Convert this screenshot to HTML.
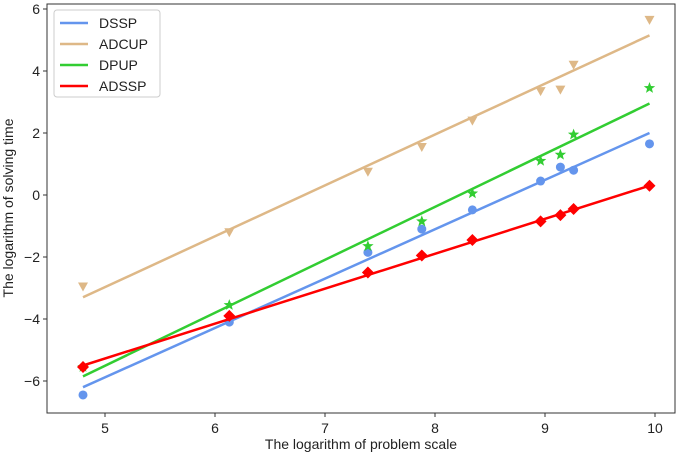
<!DOCTYPE html>
<html><head><meta charset="utf-8"><style>body{margin:0;background:#fff}svg{display:block;font-family:"Liberation Sans",sans-serif}</style></head>
<body>
<svg id="c" width="685" height="453"></svg>
<script>
const xs=[4.8,6.13,7.39,7.88,8.34,8.96,9.14,9.26,9.95];
const dssp=[-6.45,-4.1,-1.85,-1.1,-0.48,0.45,0.9,0.8,1.65];
const adcup=[-2.95,-1.2,0.75,1.55,2.4,3.35,3.4,4.2,5.65];
const dpup=[-5.55,-3.55,-1.65,-0.85,0.05,1.1,1.3,1.95,3.45];
const adssp=[-5.55,-3.9,-2.5,-1.95,-1.45,-0.85,-0.65,-0.45,0.3];
const fitX=[4.8,9.95];
const dsspFit=[-6.2,2.0];
const adcupFit=[-3.3,5.15];
const dpupFit=[-5.85,2.95];
const adsspFit=[-5.5,0.3];
const xTicks=[5,6,7,8,9,10];
const yTicks=[-6,-4,-2,0,2,4,6];
const svg=document.getElementById('c');const NS='http://www.w3.org/2000/svg';
const X=v=>105+(v-5)*110, Y=v=>195-v*31;
function mk(t,a,p){const e=document.createElementNS(NS,t);for(const k in a)e.setAttribute(k,a[k]);(p||svg).appendChild(e);return e;}
const ax=mk('rect',{x:47,y:4,width:628,height:409,fill:'none',stroke:'#333','stroke-width':1});

xTicks.forEach(t=>{const l=mk('line',{x1:X(t),x2:X(t),y1:413,y2:417,stroke:'#333'});
const tx=mk('text',{x:X(t),y:433,'text-anchor':'middle','font-size':14,fill:'#222'});tx.textContent=t;});
yTicks.forEach(t=>{const l=mk('line',{x1:43,x2:47,y1:Y(t),y2:Y(t),stroke:'#333'});
const tx=mk('text',{x:40,y:Y(t)+5,'text-anchor':'end','font-size':14,fill:'#222'});tx.textContent=(t<0?'\u2212'+(-t):t);});
const xt=mk('text',{x:361,y:449,'text-anchor':'middle','font-size':14,fill:'#222'});xt.textContent='The logarithm of problem scale';
const yt=mk('text',{x:13,y:208,'text-anchor':'middle','font-size':14,fill:'#222',transform:'rotate(-90 13 208)'});yt.textContent='The logarithm of solving time';
function marker(type,x,y,c){let e;
 if(type==='o')e=mk('circle',{cx:x,cy:y,r:4.5,fill:c});
 else if(type==='v')e=mk('polygon',{points:`${x-5},${y-4} ${x+5},${y-4} ${x},${y+5}`,fill:c});
 else if(type==='d')e=mk('polygon',{points:`${x},${y-6} ${x+6},${y} ${x},${y+6} ${x-6},${y}`,fill:c});
 else{let p=[];for(let i=0;i<10;i++){const r=i%2?2.5:6,a=-Math.PI/2+i*Math.PI/5;p.push((x+r*Math.cos(a)).toFixed(1)+','+(y+r*Math.sin(a)).toFixed(1));}e=mk('polygon',{points:p.join(' '),fill:c});}
 return e;}
const series=[['dssp',dssp,dsspFit,'#6495ed','o'],['adcup',adcup,adcupFit,'#deb887','v'],['dpup',dpup,dpupFit,'#32cd32','*'],['adssp',adssp,adsspFit,'#f00','d']];
series.forEach(([n,v,f,c,m])=>{const l=mk('line',{x1:X(fitX[0]),y1:Y(f[0]),x2:X(fitX[1]),y2:Y(f[1]),stroke:c,'stroke-width':2.5});

v.forEach((y,i)=>{const e=marker(m,X(xs[i]),Y(y),c);});});
const lg=mk('g',{});
mk('rect',{x:54,y:10,width:106,height:87,rx:3,fill:'#fff','fill-opacity':0.85,stroke:'#ccc'},lg);
['DSSP','ADCUP','DPUP','ADSSP'].forEach((t,i)=>{const y=23+i*21;
const ll=mk('line',{x1:60,x2:88,y1:y,y2:y,stroke:series[i][3],'stroke-width':2.5},lg);
const tx=mk('text',{x:99,y:y+5,'font-size':14,fill:'#222'},lg);tx.textContent=t;});
</script>
</body></html>
